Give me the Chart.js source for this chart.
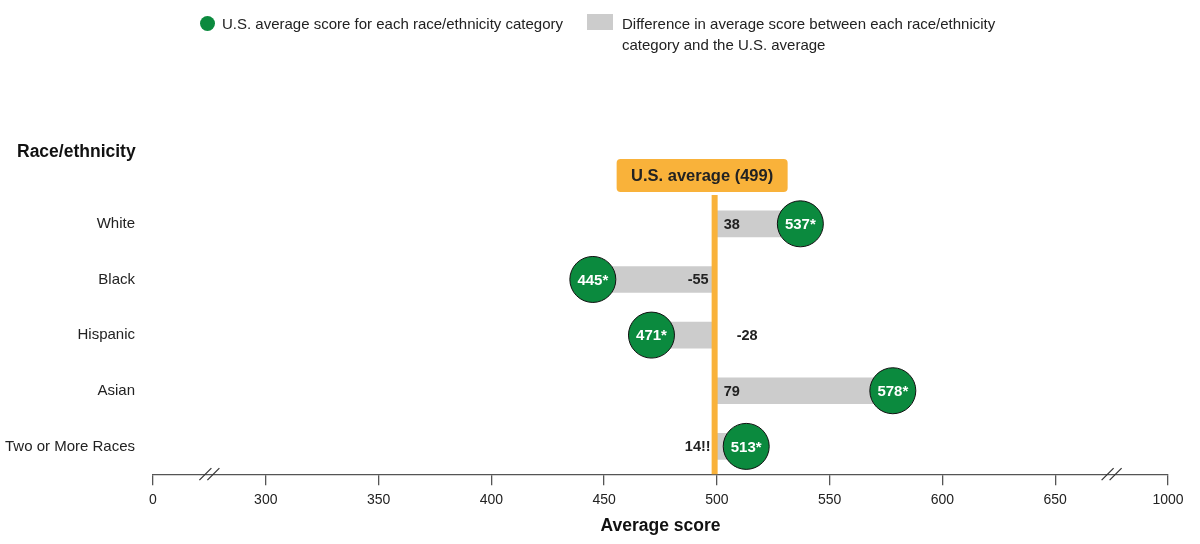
<!DOCTYPE html>
<html>
<head>
<meta charset="utf-8">
<script src="https://cdn.jsdelivr.net/npm/chart.js@4/dist/chart.umd.min.js"></script>
<style>
  html, body { margin: 0; padding: 0; background: #fff; }
  #wrap { position: relative; width: 1200px; height: 544px; font-family: "Liberation Sans", Arial, sans-serif; color: #222; }
  canvas { position: absolute; left: 0; top: 0; }
  .leg { position: absolute; font-size: 15px; line-height: 21px; }
  .dot { position: absolute; left: 200px; top: 16px; width: 15px; height: 15px; border-radius: 50%; background: #0b8a3e; }
  .box { position: absolute; left: 587px; top: 14px; width: 26px; height: 16px; background: #cccccc; }
  .head { position: absolute; left: 17px; top: 141px; font-size: 17.5px; font-weight: bold; color: #111; }
</style>
</head>
<body>
<div id="wrap">
  <canvas id="chart" width="1200" height="544"></canvas>
  <div class="dot"></div>
  <div class="leg" style="left:222px; top:13px;">U.S. average score for each race/ethnicity category</div>
  <div class="box"></div>
  <div class="leg" style="left:622px; top:13px;">Difference in average score between each race/ethnicity<br>category and the U.S. average</div>
  <div class="head">Race/ethnicity</div>
</div>
<script>
// data
const categories = ['White', 'Black', 'Hispanic', 'Asian', 'Two or More Races'];
const scores = [537, 445, 471, 578, 513];
const scoreLabels = ['537*', '445*', '471*', '578*', '513*'];
const differenceLabels = ['38', '-55', '-28', '79', '14!!'];
const usAverage = 499;
const usAverageLabel = 'U.S. average (499)';
// axis is broken: 250 stands for 0 and 700 for 1000
const tickValues = [250, 300, 350, 400, 450, 500, 550, 600, 650, 700];
const tickLabels = ['0', '300', '350', '400', '450', '500', '550', '600', '650', '1000'];
const breakValues = [275, 675];

const GREEN = '#0b8a3e';
const ORANGE = '#f9b23a';
const GREY = '#cccccc';
const FONT = '"Liberation Sans", Arial, sans-serif';

// where the difference numbers sit, px from the orange line (neg = left of it)
const diffOffsets = [9, -6, 22, 9, -4];

const extras = {
  id: 'extras',
  afterDatasetsDraw(chart) {
    const { ctx, chartArea, scales: { x, y } } = chart;
    const lx = x.getPixelForValue(usAverage);

    ctx.save();
    // category labels
    ctx.font = '15px ' + FONT;
    ctx.fillStyle = '#222';
    ctx.textAlign = 'right';
    ctx.textBaseline = 'middle';
    categories.forEach((c, i) => ctx.fillText(c, 135, y.getPixelForValue(i)));

    // orange average line
    ctx.fillStyle = ORANGE;
    ctx.fillRect(lx - 3, chartArea.top - 1, 6, chartArea.bottom - chartArea.top + 1);

    // label box
    const bw = 171, bh = 33, bx = lx - 98, by = chartArea.top - 37;
    ctx.beginPath();
    ctx.roundRect(bx, by, bw, bh, 4);
    ctx.fill();
    ctx.fillStyle = '#222';
    ctx.font = 'bold 16.5px ' + FONT;
    ctx.textAlign = 'center';
    ctx.fillText(usAverageLabel, bx + bw / 2, by + bh / 2 + 1);

    // difference numbers
    ctx.font = 'bold 14.5px ' + FONT;
    differenceLabels.forEach((t, i) => {
      const off = diffOffsets[i];
      ctx.textAlign = off < 0 ? 'right' : 'left';
      ctx.fillText(t, lx + off, y.getPixelForValue(i) + 1);
    });

    // score labels inside circles
    ctx.fillStyle = '#fff';
    ctx.font = 'bold 15px ' + FONT;
    ctx.textAlign = 'center';
    scores.forEach((s, i) => ctx.fillText(scoreLabels[i], x.getPixelForValue(s), y.getPixelForValue(i) + 1));

    // axis break marks
    ctx.strokeStyle = '#333';
    ctx.lineWidth = 1.2;
    const ay = chartArea.bottom;
    breakValues.forEach(v => {
      const bxp = x.getPixelForValue(v);
      [-4, 4].forEach(d => {
        ctx.beginPath();
        ctx.moveTo(bxp + d - 6, ay + 6);
        ctx.lineTo(bxp + d + 6, ay - 6);
        ctx.stroke();
      });
    });
    ctx.restore();
  }
};

new Chart(document.getElementById('chart'), {
  type: 'bar',
  data: {
    labels: categories,
    datasets: [
      {
        type: 'line',
        data: scores.map((s, i) => ({ x: s, y: i })),
        showLine: false,
        pointRadius: 23,
        pointBackgroundColor: GREEN,
        pointBorderColor: '#111',
        pointBorderWidth: 1,
        xAxisID: 'x',
        yAxisID: 'y',
        order: 0
      },
      {
        data: scores.map(s => [usAverage, s]),
        backgroundColor: GREY,
        barThickness: 26,
        xAxisID: 'x',
        yAxisID: 'y',
        order: 1
      }
    ]
  },
  options: {
    indexAxis: 'y',
    responsive: false,
    animation: false,
    events: [],
    layout: { padding: { left: 153, right: 32, top: 196, bottom: 3 } },
    plugins: { legend: { display: false }, tooltip: { enabled: false } },
    scales: {
      y: { type: 'category', display: false, offset: true },
      x: {
        type: 'linear',
        min: 250,
        max: 700,
        afterBuildTicks: (ax) => { ax.ticks = tickValues.map(v => ({ value: v })); },
        grid: { drawOnChartArea: false, drawTicks: true, tickLength: 11, color: '#555', lineWidth: 1.3 },
        border: { color: '#555', width: 1.3 },
        ticks: {
          padding: 7,
          color: '#222',
          font: { family: FONT, size: 14 },
          maxRotation: 0,
          autoSkip: false,
          callback: (v) => tickLabels[tickValues.indexOf(v)]
        },
        title: {
          display: true,
          text: 'Average score',
          color: '#111',
          font: { family: FONT, size: 17.5, weight: 'bold' },
          padding: { top: 0, bottom: 4 }
        }
      }
    }
  },
  plugins: [extras]
});
</script>
</body>
</html>
